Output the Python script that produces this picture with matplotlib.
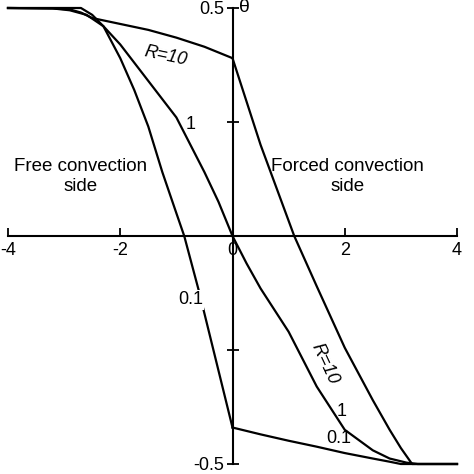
import matplotlib
matplotlib.use("Agg")
import matplotlib.pyplot as plt
plt.rcParams['font.family'] = ['Liberation Sans', 'DejaVu Sans']

r10_lx = [-4, -3.2, -2.9, -2.7, -2.5, -2, -1.5, -1, -0.5, 0]
r10_ly = [0.5, 0.499, 0.497, 0.49, 0.478, 0.465, 0.452, 0.435, 0.415, 0.39]
r10_rx = [0, 0.5, 1.1, 1.5, 2, 2.5, 2.8, 3.0, 3.2, 4]
r10_ry = [0.39, 0.2, 0, -0.11, -0.245, -0.36, -0.425, -0.465, -0.5, -0.5]

r1_lx = [-4, -3.2, -2.9, -2.6, -2.3, -2, -1.5, -1, -0.5, -0.25, 0]
r1_ly = [0.5, 0.499, 0.495, 0.485, 0.46, 0.42, 0.34, 0.26, 0.14, 0.075, 0]
r1_rx = [0, 0.25, 0.5, 1, 1.5, 2, 2.5, 2.8, 3.1, 3.3, 4]
r1_ry = [0, -0.06, -0.115, -0.21, -0.33, -0.425, -0.47, -0.488, -0.497, -0.5, -0.5]

r01_lx = [-4, -2.7, -2.5, -2.3, -2, -1.75, -1.5, -1.25, -1.0, -0.86, -0.6, -0.3, 0]
r01_ly = [0.5, 0.5, 0.485, 0.46, 0.39, 0.32, 0.24, 0.14, 0.05, 0, -0.12, -0.27, -0.42]
r01_rx = [0, 0.5, 1, 1.5, 2, 2.5, 2.8, 3.0, 4]
r01_ry = [-0.42, -0.435, -0.449, -0.462, -0.476, -0.488, -0.495, -0.5, -0.5]

fig = plt.figure(figsize=(4.74, 4.74), dpi=100)
ax = fig.add_axes([8/474, 10/474, 449/474, 456/474])
for xs, ys in [(r10_lx, r10_ly), (r10_rx, r10_ry), (r1_lx, r1_ly), (r1_rx, r1_ry),
               (r01_lx, r01_ly), (r01_rx, r01_ry)]:
    ax.plot(xs, ys, color='black', lw=1.6, clip_on=False, solid_joinstyle='round')

ax.set_xlim(-4, 4)
ax.set_ylim(-0.5, 0.5)
for s in ['top', 'right']:
    ax.spines[s].set_visible(False)
ax.spines['left'].set_position(('data', 0))
ax.spines['bottom'].set_position(('data', 0))
ax.spines['left'].set_linewidth(1.5)
ax.spines['bottom'].set_linewidth(1.5)
ax.set_xticks([-4, -2, 0, 2, 4])
ax.set_xticklabels(['-4', '-2', '0', '2', '4'])
ax.set_yticks([-0.5, -0.25, 0, 0.25, 0.5])
ax.set_yticklabels(['-0.5', '', '', '', '0.5'])
ax.tick_params(axis='x', direction='in', length=6, width=1.3, labelsize=13, pad=4)
ax.tick_params(axis='y', direction='inout', length=8, width=1.3, labelsize=13, pad=2)
ax.text(0.12, 0.5, 'θ', fontsize=14, ha='left', va='center')

ax.text(-2.7, 0.13, 'Free convection\nside', fontsize=13.5, ha='center', va='center')
ax.text(2.05, 0.13, 'Forced convection\nside', fontsize=13.5, ha='center', va='center')
ax.text(-1.2, 0.395, 'R=10', fontsize=13, rotation=-12, ha='center', va='center', style='italic')
ax.text(-0.75, 0.245, '1', fontsize=13, ha='center', va='center')
ax.text(-0.75, -0.14, '0.1', fontsize=13, ha='center', va='center',
        bbox=dict(facecolor='white', edgecolor='none', pad=1))
ax.text(1.65, -0.28, 'R=10', fontsize=13, rotation=-65, ha='center', va='center', style='italic',
        bbox=dict(facecolor='white', edgecolor='none', pad=0.5))
ax.text(1.95, -0.385, '1', fontsize=13, ha='center', va='center')
ax.text(1.9, -0.445, '0.1', fontsize=13, ha='center', va='center')

fig.savefig('out.png', dpi=100)
